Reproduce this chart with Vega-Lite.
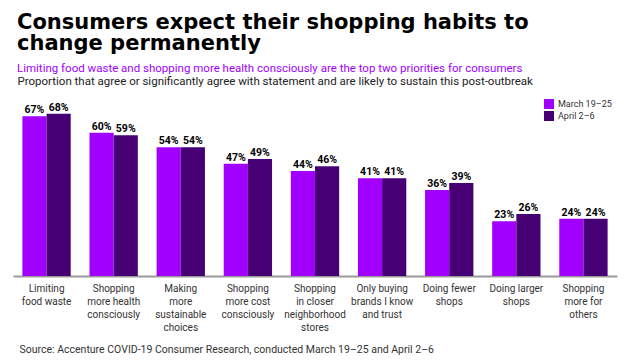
{
  "$schema": "https://vega.github.io/schema/vega-lite/v6.json",
  "autosize": "none",
  "width": 604,
  "height": 167,
  "padding": {"left": 13, "top": 109, "right": 23, "bottom": 87},
  "background": "white",
  "config": {"view": {"stroke": null}, "font": "Roboto"},
  "title": {
    "text": ["Consumers expect their shopping habits to", "change permanently"],
    "subtitle": "Limiting food waste and shopping more health consciously are the top two priorities for consumers",
    "anchor": "start",
    "frame": "group",
    "dx": 4,
    "font": "DejaVu Sans",
    "fontSize": 21,
    "fontWeight": "bold",
    "lineHeight": 21,
    "color": "#000000",
    "subtitleFont": "Roboto",
    "subtitleFontSize": 11.5,
    "subtitleColor": "#a100ff",
    "subtitlePadding": 9,
    "offset": 1
  },
  "data": {
    "values": [
      {"item": "Limiting|food waste", "period": "March 19–25", "value": 67},
      {"item": "Limiting|food waste", "period": "April 2–6", "value": 68},
      {"item": "Shopping|more health|consciously", "period": "March 19–25", "value": 60},
      {"item": "Shopping|more health|consciously", "period": "April 2–6", "value": 59},
      {"item": "Making|more|sustainable|choices", "period": "March 19–25", "value": 54},
      {"item": "Making|more|sustainable|choices", "period": "April 2–6", "value": 54},
      {"item": "Shopping|more cost|consciously", "period": "March 19–25", "value": 47},
      {"item": "Shopping|more cost|consciously", "period": "April 2–6", "value": 49},
      {"item": "Shopping|in closer|neighborhood|stores", "period": "March 19–25", "value": 44},
      {"item": "Shopping|in closer|neighborhood|stores", "period": "April 2–6", "value": 46},
      {"item": "Only buying|brands I know|and trust", "period": "March 19–25", "value": 41},
      {"item": "Only buying|brands I know|and trust", "period": "April 2–6", "value": 41},
      {"item": "Doing fewer|shops", "period": "March 19–25", "value": 36},
      {"item": "Doing fewer|shops", "period": "April 2–6", "value": 39},
      {"item": "Doing larger|shops", "period": "March 19–25", "value": 23},
      {"item": "Doing larger|shops", "period": "April 2–6", "value": 26},
      {"item": "Shopping|more for|others", "period": "March 19–25", "value": 24},
      {"item": "Shopping|more for|others", "period": "April 2–6", "value": 24}
    ]
  },
  "encoding": {
    "x": {
      "field": "item",
      "type": "nominal",
      "sort": null,
      "scale": {"paddingInner": 0.28, "paddingOuter": 0.14},
      "axis": {
        "labelAngle": 0,
        "labelExpr": "split(datum.label, '|')",
        "labelFont": "Roboto",
        "labelFontSize": 10,
        "labelColor": "#333333",
        "labelLineHeight": 13,
        "labelPadding": 7,
        "labelBaseline": "top",
        "ticks": false,
        "domainColor": "#999999",
        "domainWidth": 2,
        "title": "Source: Accenture COVID-19 Consumer Research, conducted March 19–25 and April 2–6",
        "titleFont": "Roboto",
        "titleFontSize": 10.5,
        "titleFontWeight": "normal",
        "titleColor": "#333333",
        "titleAnchor": "start",
        "titleAlign": "left",
        "titleBaseline": "alphabetic",
        "titleX": 6,
        "titleY": 76
      }
    },
    "xOffset": {"field": "period", "type": "nominal", "sort": ["March 19–25", "April 2–6"]},
    "y": {
      "field": "value",
      "type": "quantitative",
      "scale": {"domain": [0, 70], "nice": false},
      "axis": {
        "domain": false,
        "ticks": false,
        "labels": false,
        "grid": false,
        "title": "Proportion that agree or significantly agree with statement and are likely to sustain this post-outbreak",
        "titleAngle": 0,
        "titleAlign": "left",
        "titleBaseline": "alphabetic",
        "titleFont": "Roboto",
        "titleFontSize": 11.5,
        "titleFontWeight": "normal",
        "titleColor": "#222222",
        "titleX": 4,
        "titleY": -25
      }
    }
  },
  "layer": [
    {
      "mark": {"type": "bar"},
      "encoding": {
        "color": {
          "field": "period",
          "type": "nominal",
          "sort": ["March 19–25", "April 2–6"],
          "scale": {"domain": ["March 19–25", "April 2–6"], "range": ["#a100ff", "#460073"]},
          "legend": {
            "title": null,
            "orient": "none",
            "legendX": 531,
            "legendY": -10,
            "symbolType": "square",
            "symbolSize": 100,
            "symbolStrokeWidth": 0,
            "labelFont": "Roboto",
            "labelFontSize": 9,
            "labelColor": "#333333",
            "rowPadding": 2
          }
        }
      }
    },
    {
      "transform": [{"calculate": "datum.value + '%'", "as": "label"}],
      "mark": {"type": "text", "baseline": "alphabetic", "dy": -3, "font": "Roboto", "fontWeight": "bold", "fontSize": 10.5, "color": "#000000"},
      "encoding": {
        "text": {"field": "label", "type": "nominal"},
        "detail": {"field": "period"}
      }
    }
  ]
}
